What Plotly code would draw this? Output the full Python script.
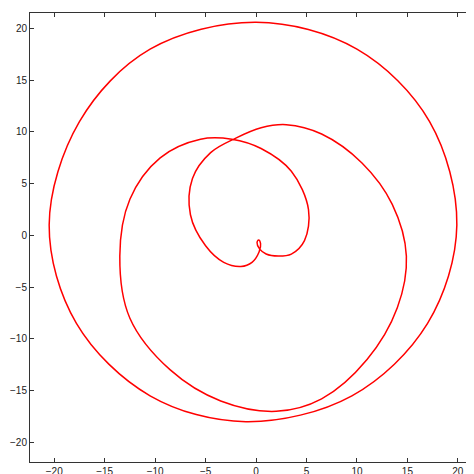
import plotly.graph_objects as go

outer_x = [0, 10, 17.2, 19.9, 17, 9.5, -1, -10.5, -17.8, -20.5, -17.5, -10.5, 0]
outer_y = [20.6, 18, 11, 1, -8.5, -15.5, -18, -15.5, -8.5, 1, 11, 18, 20.6]

inner_x = [0.3, -0.4, -1.5, -3.2, -5, -6.5, -6.3, -4.5, -2, 0.5, 3, 6.5, 10.5, 13.5, 14.9, 14, 11, 6.5, 2,
           -3.5, -8.5, -12.5, -13.5, -12.5, -9.5, -5.5, -2.4, 0.5, 3.5, 5.2, 4.8, 3.5, 2.2, 1, 0.35, 0.1, 0.25, 0.45, 0.3]
inner_y = [-1.6, -2.6, -3, -2.6, -1, 2, 5.5, 8, 9.4, 10.4, 10.7, 9.8, 7, 3, -2, -7, -12, -15.8, -17,
           -16, -13, -8, -2, 3.5, 7.5, 9.3, 9.3, 8.4, 6.2, 2.5, -0.5, -1.8, -2, -1.8, -1.3, -0.7, -0.45, -0.8, -1.6]

tick_vals = [-20, -15, -10, -5, 0, 5, 10, 15, 20]

fig = go.Figure()
for xs, ys in [(outer_x, outer_y), (inner_x, inner_y)]:
    fig.add_trace(go.Scatter(x=xs, y=ys, mode="lines", line=dict(color="#ff0000", width=1.5, shape="spline", smoothing=1.0),
                             showlegend=False, hoverinfo="skip"))

ax = dict(showgrid=False, zeroline=False, showline=True, linecolor="#333", linewidth=1, mirror="allticks",
          ticks="inside", ticklen=4, tickcolor="#333", tickvals=tick_vals, automargin=False,
          tickfont=dict(family="Liberation Sans, Arial", size=10, color="#222"))
fig.update_layout(width=474, height=474, plot_bgcolor="white", paper_bgcolor="white",
                  margin=dict(l=22, r=7, t=5, b=20),
                  xaxis=dict(range=[-22.4, 21.7], **ax),
                  yaxis=dict(range=[-21.9, 21.5], **ax))
fig.write_html("out.html")
